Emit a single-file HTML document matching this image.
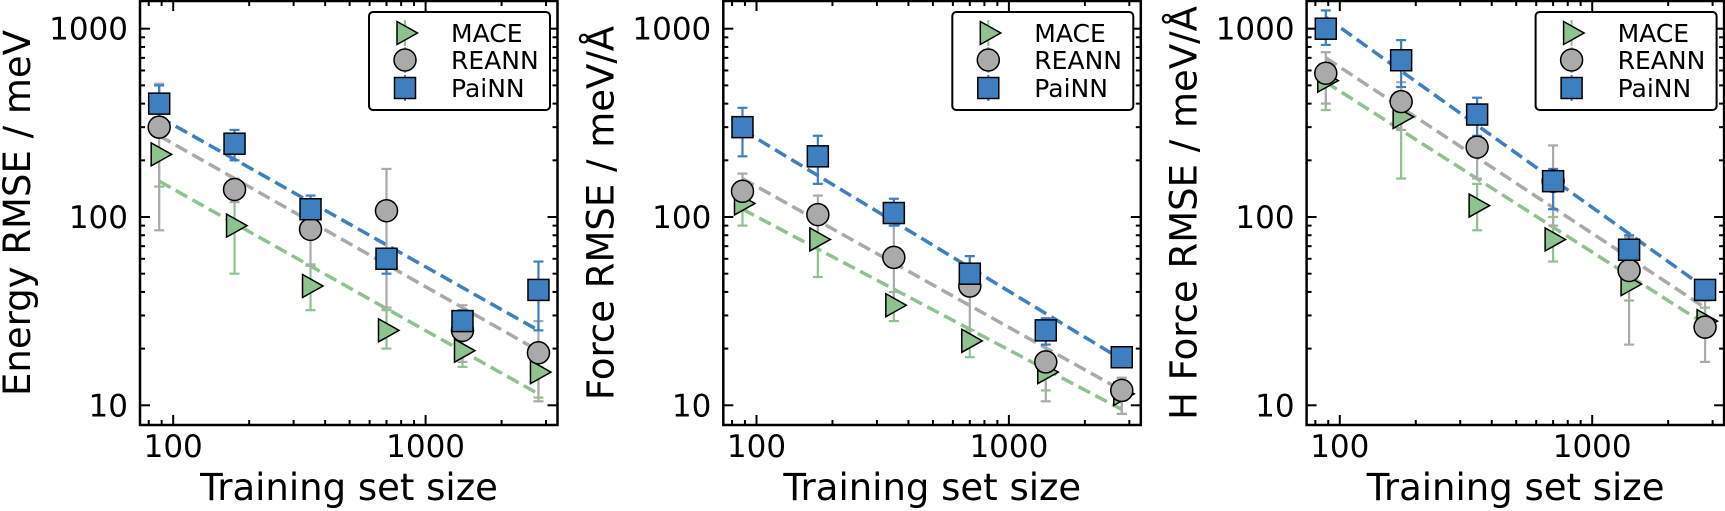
<!DOCTYPE html>
<html><head><meta charset="utf-8"><style>
html,body{margin:0;padding:0;background:#fff;}
svg{display:block;font-family:"DejaVu Sans","Liberation Sans",sans-serif;}
</style></head><body>
<svg id="s" width="1725" height="511" xmlns="http://www.w3.org/2000/svg"></svg>
<script>
const S=document.getElementById('s');let h='';
const NS=[88,175,350,700,1400,2800];
const C={p:'#3d7fbf',r:'#aaaaaa',m:'#8ec28e'};
const panels=[
{lab:'Energy RMSE / meV',
 p:[[400,330,500],[245,200,290],[110,95,130],[60,50,68],[28,24,32],[41,25,58]],
 r:[[300,85,510],[140,120,160],[86,55,115],[108,33,180],[25,17,34],[19,10.5,28]],
 m:[[215,145,215],[90,50,125],[43,32,56],[25,20,32],[19.5,16,23],[15,11,16]],
 f:{p:[340,25],r:[270,19.5],m:[155,11.5]}},
{lab:'Force RMSE / meV/Å',
 p:[[300,210,380],[210,150,270],[105,90,125],[50,42,62],[25,21,29],[18,17,19]],
 r:[[137,110,170],[103,80,130],[61,35,90],[43,22,62],[17,10.5,25],[12,9,14]],
 m:[[118,90,140],[76,48,100],[34,28,40],[22,18,25],[15,12,18],[11.5,9,14]],
 f:{p:[290,17.5],r:[160,12],m:[110,9.5]}},
{lab:'H Force RMSE / meV/Å',
 p:[[1000,820,1250],[680,490,870],[350,270,430],[155,110,180],[67,55,80],[41,39,43]],
 r:[[580,400,750],[410,290,520],[235,160,330],[155,90,240],[52,21,78],[26,17,36]],
 m:[[530,370,650],[340,160,430],[115,85,150],[76,58,100],[44,36,55],[28,24,33]],
 f:{p:[1150,42],r:[700,33],m:[520,27]}}];
const T=1,B=425,W=417.5;
panels.forEach((P,i)=>{
 const L=140+583.3*i,R=L+W;
 const X=n=>L+33.2+252.4*Math.log10(n/100);
 const Y=v=>217-188.3*Math.log10(v/100);
 for(let d=10;d<=1000;d*=10){for(let k=1;k<10;k++){const v=d*k;const y=Y(v);if(y<T||y>B)continue;const len=k==1?10:5;
  h+=`<line x1="${L}" y1="${y}" x2="${L+len}" y2="${y}" stroke="#000" stroke-width="2"/><line x1="${R}" y1="${y}" x2="${R-len}" y2="${y}" stroke="#000" stroke-width="2"/>`;
  if(k==1)h+=`<text x="${L-12}" y="${y+11}" font-size="31" text-anchor="end">${v}</text>`;}}
 for(let d=10;d<=1000;d*=10){for(let k=1;k<10;k++){const v=d*k;const x=X(v);if(x<L||x>R)continue;const len=k==1?10:5;
  h+=`<line x1="${x}" y1="${B}" x2="${x}" y2="${B-len}" stroke="#000" stroke-width="2"/><line x1="${x}" y1="${T}" x2="${x}" y2="${T+len}" stroke="#000" stroke-width="2"/>`;
  if(k==1)h+=`<text x="${x}" y="457" font-size="31" text-anchor="middle">${v}</text>`;}}
 ['m','r','p'].forEach(s=>{const f=P.f[s];h+=`<line x1="${X(88)}" y1="${Y(f[0])}" x2="${X(2800)}" y2="${Y(f[1])}" stroke="${C[s]}" stroke-width="3.5" stroke-dasharray="13,6"/>`;});
 ['m','r','p'].forEach(s=>{P[s].forEach((d,j)=>{const x=X(NS[j]);const y1=Y(d[1]),y2=Y(d[2]);
  h+=`<line x1="${x}" y1="${y1}" x2="${x}" y2="${y2}" stroke="${C[s]}" stroke-width="2.2"/><line x1="${x-5}" y1="${y1}" x2="${x+5}" y2="${y1}" stroke="${C[s]}" stroke-width="2.2"/><line x1="${x-5}" y1="${y2}" x2="${x+5}" y2="${y2}" stroke="${C[s]}" stroke-width="2.2"/>`;});});
 const mk=(s,x,y)=>{if(s=='p')return `<rect x="${x-10.5}" y="${y-10.5}" width="21" height="21" fill="${C.p}" stroke="#000" stroke-width="1.5"/>`;
  if(s=='r')return `<circle cx="${x}" cy="${y}" r="11" fill="${C.r}" stroke="#000" stroke-width="1.5"/>`;
  return `<polygon points="${x-8},${y-11.5} ${x+12.5},${y} ${x-8},${y+11.5}" fill="${C.m}" stroke="#000" stroke-width="1.5"/>`;};
 ['m','r','p'].forEach(s=>{P[s].forEach((d,j)=>{h+=mk(s,X(NS[j]),Y(d[0]));});});
 h+=`<rect x="${L}" y="${T}" width="${W}" height="${B-T}" fill="none" stroke="#000" stroke-width="2.5"/>`;
 h+=`<rect x="${L+229}" y="12" width="181" height="98" rx="4" fill="#fff" stroke="#000" stroke-width="2"/>`;
 const lx=L+265;
 [['m','MACE',33],['r','REANN',60],['p','PaiNN',88]].forEach(([s,t,y])=>{
  h+=`<line x1="${lx}" y1="${y-13}" x2="${lx}" y2="${y+13}" stroke="${C[s]}" stroke-width="2"/>`+mk(s,lx,y)+`<text x="${L+311}" y="${y+9}" font-size="25">${t}</text>`;});
 h+=`<text x="${L+209}" y="500" font-size="37" text-anchor="middle">Training set size</text>`;
 h+=`<text transform="translate(${L-110},213) rotate(-90)" font-size="37" text-anchor="middle">${P.lab}</text>`;
});
S.innerHTML=h;
</script>
</body></html>
